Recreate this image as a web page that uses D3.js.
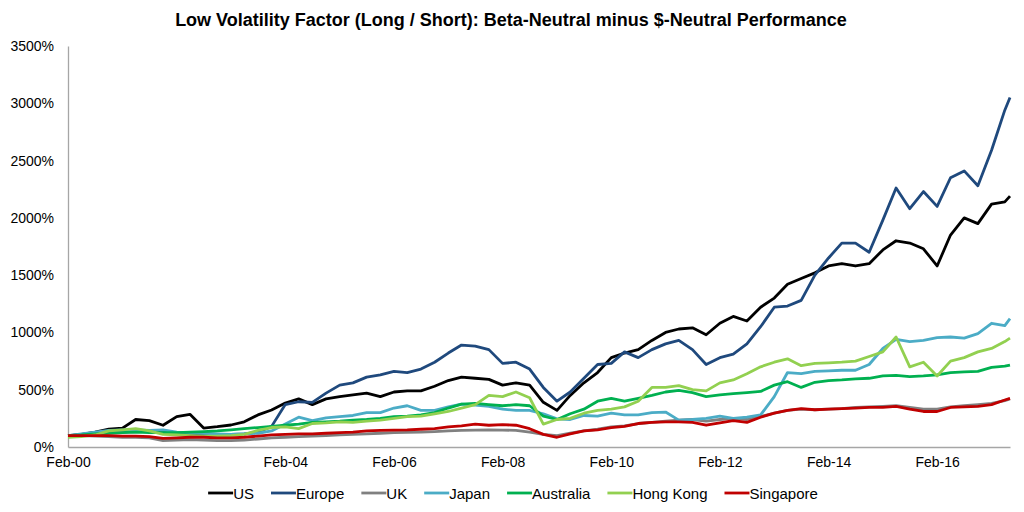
<!DOCTYPE html>
<html>
<head>
<meta charset="utf-8">
<script src="https://cdn.jsdelivr.net/npm/d3@7"></script>
<style>
  body { margin: 0; background: #fff; }
  svg { font-family: "Liberation Sans", Arial, sans-serif; }
</style>
</head>
<body>
<div id="chart"></div>
<script>
// Quarterly observation dates (Feb-00 .. Jun-17)
const dates = [
  "2000-02", "2000-05", "2000-08", "2000-11", "2001-02", "2001-05", "2001-08", "2001-11",
  "2002-02", "2002-05", "2002-08", "2002-11", "2003-02", "2003-05", "2003-08", "2003-11",
  "2004-02", "2004-05", "2004-08", "2004-11", "2005-02", "2005-05", "2005-08", "2005-11",
  "2006-02", "2006-05", "2006-08", "2006-11", "2007-02", "2007-05", "2007-08", "2007-11",
  "2008-02", "2008-05", "2008-08", "2008-11", "2009-02", "2009-05", "2009-08", "2009-11",
  "2010-02", "2010-05", "2010-08", "2010-11", "2011-02", "2011-05", "2011-08", "2011-11",
  "2012-02", "2012-05", "2012-08", "2012-11", "2013-02", "2013-05", "2013-08", "2013-11",
  "2014-02", "2014-05", "2014-08", "2014-11", "2015-02", "2015-05", "2015-08", "2015-11",
  "2016-02", "2016-05", "2016-08", "2016-11", "2017-02", "2017-05", "2017-06"
];

// Cumulative performance in %
const us = [100, 110, 130, 155, 165, 240, 230, 190, 265, 285, 165, 177, 192, 220, 280, 323, 384,
  420, 370, 420, 440, 455, 470, 440, 480, 490, 490, 530, 580, 610, 600, 590, 540, 560,
  540, 390, 320, 450, 560, 650, 780, 820, 850, 930, 1000, 1030, 1040, 980, 1080, 1140, 1100, 1220,
  1300, 1420, 1470, 1520, 1580, 1600, 1580, 1600, 1720, 1800, 1780, 1730, 1580, 1850, 2000, 1950, 2120, 2140, 2190];
const europe = [100, 105, 115, 125, 130, 135, 140, 135, 125, 120, 115, 110, 110, 115, 130, 180, 370,
  395, 390, 470, 540, 560, 610, 630, 660, 650, 680, 740, 820, 890, 880, 850, 730, 740,
  680, 520, 400, 480, 600, 720, 730, 830, 780, 850, 900, 930, 850, 720, 780, 810, 900, 1050,
  1220, 1230, 1280, 1500, 1650, 1780, 1780, 1700, 1980, 2260, 2080, 2230, 2100, 2350, 2410, 2280, 2590, 2940, 3050];
const uk = [100, 100, 95, 90, 85, 85, 80, 55, 60, 65, 60, 55, 55, 60, 70, 80, 85,
  90, 95, 100, 105, 110, 115, 120, 125, 128, 130, 135, 140, 145, 148, 150, 148, 145,
  130, 110, 100, 120, 140, 155, 175, 185, 205, 215, 225, 235, 240, 225, 240, 250, 240, 265,
  295, 320, 330, 325, 330, 335, 345, 350, 355, 360, 345, 330, 330, 350, 360, 370, 380, 405, 420];
const japan = [100, 115, 130, 145, 150, 150, 145, 150, 130, 125, 120, 115, 110, 115, 120, 140, 200,
  260, 230, 255, 265, 275, 300, 300, 340, 360, 320, 320, 350, 375, 365, 355, 330, 320,
  320, 290, 245, 240, 275, 270, 295, 280, 280, 300, 305, 235, 240, 250, 270, 250, 260, 280,
  440, 650, 640, 660, 665, 670, 670, 720, 860, 940, 920, 930, 955, 960, 950, 990, 1080, 1060, 1120];
const australia = [100, 105, 115, 120, 125, 130, 125, 125, 125, 130, 135, 140, 150, 160, 170, 180, 190,
  200, 215, 220, 225, 235, 240, 250, 265, 270, 280, 300, 340, 375, 380, 370, 360, 370,
  360, 270, 240, 290, 330, 400, 425, 400, 425, 450, 480, 495, 475, 440, 455, 465, 475, 485,
  540, 570, 520, 565, 580, 585, 595, 600, 620, 625, 615, 620, 630, 650, 655, 660, 695, 705, 715];
const hongKong = [85, 90, 105, 140, 150, 160, 140, 110, 105, 100, 95, 95, 100, 110, 145, 170, 175,
  160, 205, 210, 220, 215, 225, 235, 250, 265, 270, 290, 310, 340, 370, 450, 440, 480,
  430, 200, 240, 250, 295, 320, 330, 350, 400, 520, 520, 535, 500, 490, 560, 585, 640, 700,
  740, 770, 710, 730, 735, 740, 750, 790, 830, 960, 700, 740, 620, 750, 780, 830, 860, 920, 950];
const singapore = [100, 100, 100, 100, 95, 95, 90, 75, 80, 85, 85, 80, 80, 85, 95, 105, 110,
  115, 115, 120, 125, 130, 140, 145, 148, 150, 155, 160, 175, 185, 200, 190, 195, 190,
  160, 110, 85, 115, 140, 150, 170, 180, 205, 215, 220, 220, 215, 190, 210, 230, 215, 260,
  295, 320, 335, 325, 330, 335, 340, 345, 345, 355, 330, 310, 310, 345, 350, 355, 370, 410, 425];

const seriesNames = ["US", "Europe", "UK", "Japan", "Australia", "Hong Kong", "Singapore"];
const seriesValues = [us, europe, uk, japan, australia, hongKong, singapore];
const seriesColors = ["#000000", "#1F497D", "#808080", "#4BACC6", "#00B050", "#92D050", "#C00000"];

const yTicks = [0, 500, 1000, 1500, 2000, 2500, 3000, 3500];
const xTicks = ["2000-02", "2002-02", "2004-02", "2006-02", "2008-02", "2010-02", "2012-02", "2014-02", "2016-02"];

const title = "Low Volatility Factor (Long / Short): Beta-Neutral minus $-Neutral Performance";

const W = 1024, H = 512;
const margin = { top: 46, right: 14, bottom: 65, left: 68 };
const width = W - margin.left - margin.right;
const height = H - margin.top - margin.bottom;

const parse = d3.timeParse("%Y-%m");
const fmt = d3.timeFormat("%b-%y");
const dts = dates.map(parse);
dts[dts.length - 1] = new Date(2017, 5, 5);

let x = d3.scaleTime()
  .domain([dts[0], dts[dts.length - 1]])
  .range([0, width]);

let y = d3.scaleLinear()
  .domain([0, 3500])
  .range([height, 0]);

let svg = d3.select("#chart")
  .append("svg")
  .attr("width", W)
  .attr("height", H);

svg.append("text")
  .attr("x", 511)
  .attr("y", 26)
  .attr("text-anchor", "middle")
  .style("font-size", "18px")
  .style("font-weight", "bold")
  .text(title);

let g = svg.append("g")
  .attr("transform", "translate(" + margin.left + "," + margin.top + ")");

// axes, no tick marks
let yAxis = g.append("g")
  .call(d3.axisLeft(y).tickValues(yTicks).tickSize(0).tickPadding(14).tickFormat(d => d + "%"));
let xAxis = g.append("g")
  .attr("transform", "translate(0," + height + ")")
  .call(d3.axisBottom(x).tickValues(xTicks.map(parse)).tickSize(0).tickPadding(10).tickFormat(fmt));

[yAxis, xAxis].forEach(a => {
  a.select(".domain").attr("stroke", "#A6A6A6").attr("stroke-width", 1.3);
  a.selectAll("text").style("font-size", "14px").attr("fill", "#000");
});

const line = d3.line()
  .x((d, i) => x(dts[i]))
  .y(d => y(d));

g.selectAll(".series")
  .data(seriesValues)
  .enter()
  .append("path")
  .attr("class", "series")
  .attr("fill", "none")
  .attr("stroke", (d, i) => seriesColors[i])
  .attr("stroke-width", 2.8)
  .attr("stroke-linejoin", "round")
  .attr("d", line);

// legend
let legend = svg.append("g");
let cx = 0;
seriesNames.forEach((name, i) => {
  let item = legend.append("g").attr("transform", "translate(" + cx + ",0)");
  item.append("line")
    .attr("x1", 0).attr("x2", 25)
    .attr("y1", 0).attr("y2", 0)
    .attr("stroke", seriesColors[i])
    .attr("stroke-width", 2.8);
  let t = item.append("text")
    .attr("x", 25)
    .attr("y", 5.5)
    .style("font-size", "15px")
    .text(name);
  cx += 25 + t.node().getComputedTextLength() + 17;
});
cx -= 17;
legend.attr("transform", "translate(" + (513 - cx / 2) + ",493)");
</script>
</body>
</html>
